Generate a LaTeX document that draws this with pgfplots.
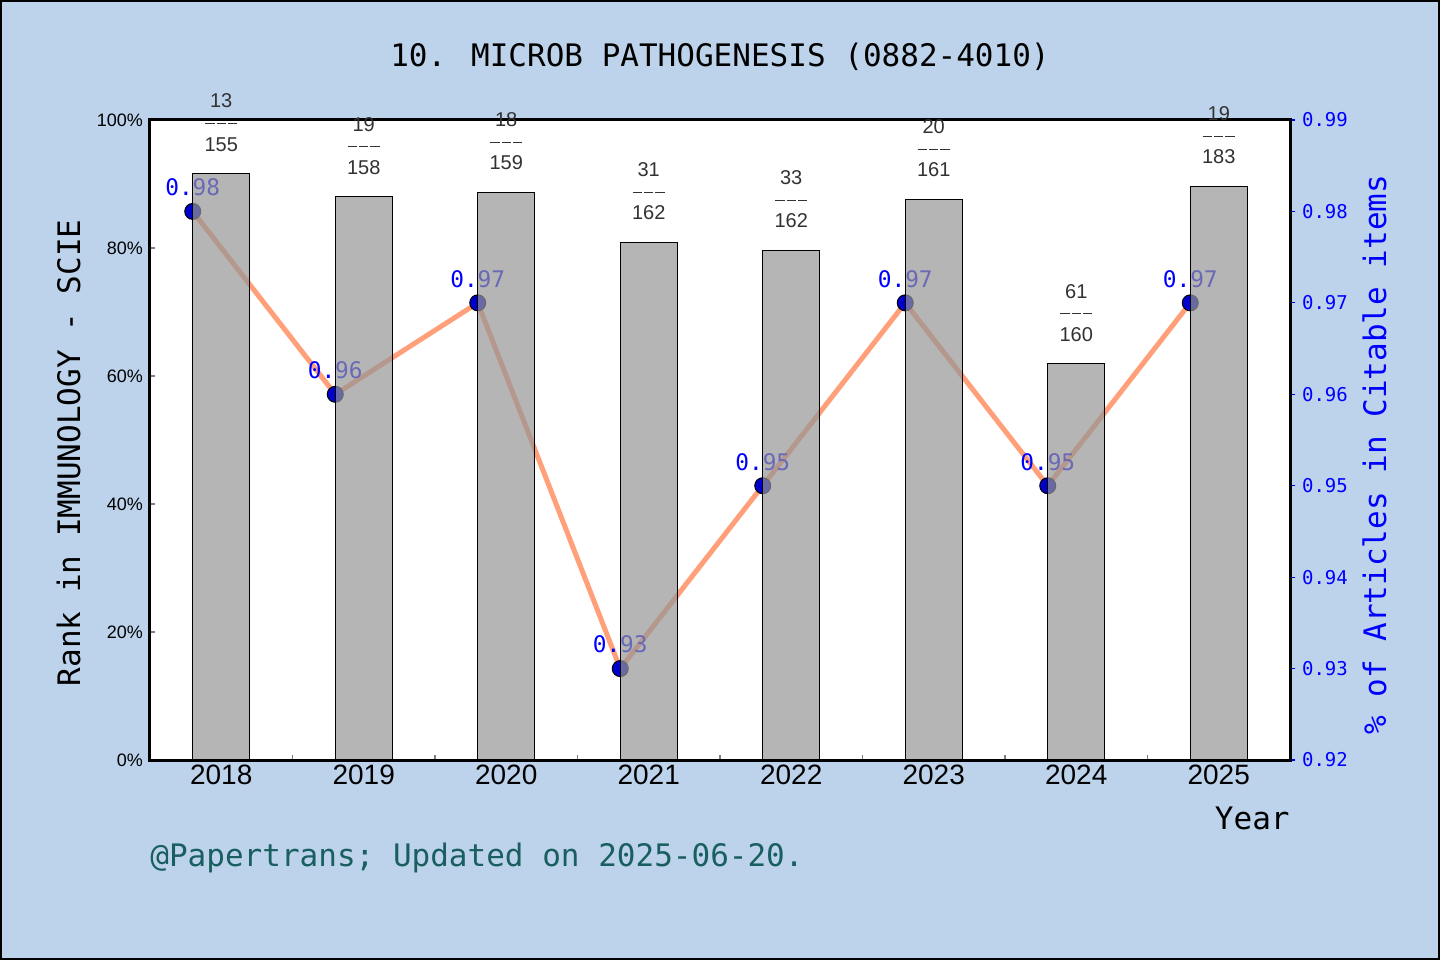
\documentclass[border=0pt]{standalone}
\usepackage{pgfplots}
\pgfplotsset{compat=1.18}
\usepackage{fontspec}
\setmainfont{Liberation Sans}
\newfontfamily\monof{DejaVu Sans Mono}
\definecolor{bgblue}{RGB}{189,211,235}
\definecolor{barfill}{RGB}{150,150,150}
\definecolor{salmonline}{RGB}{255,160,122}
\definecolor{tealtxt}{RGB}{25,95,95}
\definecolor{lblgray}{RGB}{50,50,50}
\definecolor{mblue}{RGB}{0,0,205}
\begin{document}
\begin{tikzpicture}
\path[use as bounding box, fill=bgblue] (-75pt,-100pt) rectangle (645pt,380pt);
\draw[black, line width=0.8pt] (-74.6pt,-99.6pt) rectangle (644.6pt,379.6pt);

% right axis: line (drawn first, under the bars)
\begin{axis}[
  scale only axis, width=570pt, height=320pt,
  xmin=-0.5, xmax=7.5, ymin=0.92, ymax=0.99,
  axis x line=none,
  axis y line*=right,
  y axis line style={draw=none},
  axis background/.style={fill=white},
  ytick={0.92,0.93,0.94,0.95,0.96,0.97,0.98,0.99},
  yticklabel style={font=\monof\fontsize{9.5}{11}\selectfont, text=blue,
    /pgf/number format/.cd, fixed, fixed zerofill, precision=2, assume math mode=true},
  tick align=outside, major tick length=2.5pt,
  ytick style={draw=blue, line width=0.6pt},
  clip=false,
]
\addplot[salmonline, line width=2.5pt, mark=*, mark size=4pt,
  mark options={fill=mblue, draw=black, line width=0.5pt},
  point meta=y,
  nodes near coords={\pgfmathprintnumber[fixed,fixed zerofill,precision=2,assume math mode=true]{\pgfplotspointmeta}},
  every node near coord/.style={anchor=center, yshift=12pt, text=blue,
    font=\monof\fontsize{11.4}{13}\selectfont}]
coordinates {(-0.2,0.98) (0.8,0.96) (1.8,0.97) (2.8,0.93) (3.8,0.95) (4.8,0.97) (5.8,0.95) (6.8,0.97)};
\end{axis}

% left axis: bars
\begin{axis}[
  scale only axis, width=570pt, height=320pt,
  xmin=-0.5, xmax=7.5, ymin=0, ymax=100,
  axis line style={line width=1.5pt},
  xtick={0,1,2,3,4,5,6,7},
  xticklabels={2018,2019,2020,2021,2022,2023,2024,2025},
  xticklabel style={font=\fontsize{14}{16}\selectfont, yshift=1pt},
  major x tick style={draw=none},
  minor xtick={0.5,1.5,2.5,3.5,4.5,5.5,6.5},
  minor tick length=2.5pt,
  minor x tick style={line width=0.6pt},
  ytick={0,20,40,60,80,100},
  yticklabel={\pgfmathprintnumber{\tick}\%},
  yticklabel style={font=\fontsize{9}{10}\selectfont, /pgf/number format/assume math mode=true},
  major y tick style={line width=0.6pt},
  major tick length=2.5pt,
  ytick pos=left, xtick pos=bottom,
  tick align=inside,
  clip=false,
]
\addplot[ybar, bar width=0.4, draw=black, line width=0.6pt, fill=barfill, fill opacity=0.7]
coordinates {(0,91.6) (1,88.0) (2,88.7) (3,80.9) (4,79.6) (5,87.6) (6,61.9) (7,89.6)};

\tikzset{blbl/.style={anchor=south, align=center, yshift=11pt, inner sep=0pt, text=lblgray,
  font=\fontsize{10}{10.8}\selectfont}}
\newcommand{\dsh}{{\fontsize{10}{10.8}\selectfont\rule[2.6pt]{4.6pt}{0.5pt}\hspace{1pt}\rule[2.6pt]{4.6pt}{0.5pt}\hspace{1pt}\rule[2.6pt]{4.6pt}{0.5pt}}}
\node[blbl] at (axis cs:0,91.6) {13\\\dsh\\155};
\node[blbl] at (axis cs:1,88.0) {19\\\dsh\\158};
\node[blbl] at (axis cs:2,88.7) {18\\\dsh\\159};
\node[blbl] at (axis cs:3,80.9) {31\\\dsh\\162};
\node[blbl] at (axis cs:4,79.6) {33\\\dsh\\162};
\node[blbl] at (axis cs:5,87.6) {20\\\dsh\\161};
\node[blbl] at (axis cs:6,61.9) {61\\\dsh\\160};
\node[blbl] at (axis cs:7,89.6) {19\\\dsh\\183};

\node[anchor=base, font=\monof\fontsize{15.5}{18}\selectfont] at (axis cs:3.5,108.3)
  {10. MICROB PATHOGENESIS (0882-4010)};
\node[anchor=base, rotate=90, font=\monof\fontsize{15.5}{18}\selectfont] at (axis cs:-0.991,48)
  {Rank in IMMUNOLOGY - SCIE};
\node[anchor=base, rotate=90, text=blue, font=\monof\fontsize{15.5}{18}\selectfont] at (axis cs:8.174,47.7)
  {\% of Articles in Citable items};
\node[anchor=base east, inner sep=0pt, font=\monof\fontsize{15.5}{18}\selectfont] at (axis cs:7.5,-10.8) {Year};
\node[anchor=base west, inner sep=0pt, text=tealtxt, font=\monof\fontsize{15.5}{18}\selectfont] at (axis cs:-0.5,-16.6)
  {@Papertrans; Updated on 2025-06-20.};
\end{axis}
\end{tikzpicture}
\end{document}
